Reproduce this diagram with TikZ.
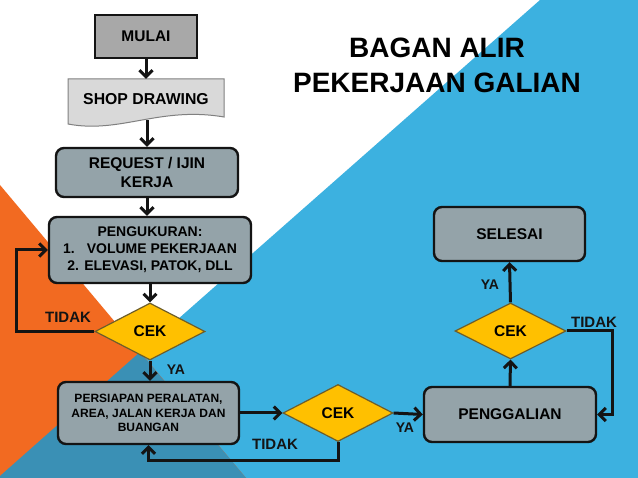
\documentclass[tikz,border=0pt]{standalone}
\usepackage{fontspec}
\setmainfont{Liberation Sans}
\usetikzlibrary{shapes.geometric,arrows.meta}
\definecolor{bgorange}{HTML}{F26A21}
\definecolor{bgblue}{HTML}{3CB1E0}
\definecolor{bgdark}{HTML}{3A90B5}
\definecolor{boxfill}{HTML}{94A3A9}
\definecolor{startfill}{HTML}{A8A8A8}
\definecolor{docfill}{HTML}{D9D9D9}
\definecolor{docline}{HTML}{808080}
\definecolor{decfill}{HTML}{FFC000}
\definecolor{decline}{HTML}{6E5E2A}
\definecolor{ink}{HTML}{141414}
\tikzset{
  procbox/.style={draw=ink, line width=2.4pt, fill=boxfill, rounded corners=8pt,
    align=center, inner sep=0pt, font=\bfseries\fontsize{15.5}{19}\selectfont},
  startbox/.style={draw=ink, line width=2.4pt, fill=startfill, align=center,
    inner sep=0pt, font=\bfseries\fontsize{15.5}{19}\selectfont},
  decbox/.style={diamond, draw=decline, line width=1.2pt, fill=decfill, inner sep=0pt,
    aspect=1, font=\bfseries\fontsize{15.5}{19}\selectfont},
  arr/.style={draw=ink, line width=3pt, -{Straight Barb[length=6.5pt,width=13pt]}},
  lbl/.style={font=\bfseries\fontsize{15}{18}\selectfont, text=ink, inner sep=0pt},
}
\begin{document}
\begin{tikzpicture}[x=1pt,y=-1pt]
\useasboundingbox (0,0) rectangle (638,478);
% background
\fill[white] (0,0) rectangle (638,478);
\fill[bgblue] (540,0) -- (638,0) -- (638,478) -- (0,478) -- (0,476) -- cycle;
\fill[bgorange] (0,185) -- (246,478) -- (0,478) -- cycle;
\fill[bgdark] (140,352) -- (246,478) -- (0,478) -- (0,476) -- cycle;
% title
\node[align=center, inner sep=0pt, font=\bfseries\fontsize{28}{35}\selectfont] (title) at (437,65)
  {BAGAN ALIR\\PEKERJAAN GALIAN};
% nodes
\node[startbox, minimum width=102pt, minimum height=43pt] (mulai) at (146,36.5) {MULAI};
\node[inner sep=0pt, minimum width=156pt, minimum height=46pt] (shop) at (146,102) {};
\draw[fill=docfill, draw=docline, line width=1pt]
  (68,79) -- (224,79) -- (224,117) .. controls (160,106) and (120,134) .. (68,124) -- cycle;
\node[inner sep=0pt, font=\bfseries\fontsize{15.8}{19}\selectfont] (shoptext) at (146,99) {SHOP DRAWING};
\coordinate (shopb) at (147,120);
\node[procbox, minimum width=182pt, minimum height=49pt] (request) at (147,172.5) {REQUEST / IJIN\\KERJA};
\node[procbox, minimum width=202pt, minimum height=66pt, font=\bfseries\fontsize{14}{17}\selectfont] (peng) at (150,250)
  {PENGUKURAN:\\1.\hspace{12pt}VOLUME PEKERJAAN\\2. ELEVASI, PATOK, DLL};
\node[decbox, minimum width=110pt, minimum height=57pt] (cek1) at (150,331.5) {CEK};
\node[procbox, minimum width=181pt, minimum height=62pt, font=\bfseries\fontsize{12}{14.5}\selectfont] (persiapan) at (148.5,413)
  {PERSIAPAN PERALATAN,\\AREA, JALAN KERJA DAN\\BUANGAN};
\node[decbox, minimum width=110pt, minimum height=57pt] (cek2) at (338,413) {CEK};
\node[procbox, minimum width=172pt, minimum height=55pt] (penggalian) at (510,414.5) {PENGGALIAN};
\node[decbox, minimum width=111pt, minimum height=56pt] (cek3) at (510.5,331) {CEK};
\node[procbox, minimum width=151pt, minimum height=54pt] (selesai) at (509.5,234) {SELESAI};
% connectors
\draw[arr] (mulai.south) -- (shop.north);
\draw[arr] (shopb) -- (request.north);
\draw[arr] (request.south) -- (request.south |- peng.north);
\draw[arr] (peng.south) -- (cek1.north);
\draw[arr] (cek1.west) -| ([xshift=-31pt]peng.west) -- (peng.west);
\draw[arr] (cek1.south) -- (cek1.south |- persiapan.north);
\draw[arr] (persiapan.east) -- (cek2.west);
\draw[arr] (cek2.south) -- ++(0,18) -| (persiapan.south);
\draw[arr] (cek2.east) -- (penggalian.west);
\draw[arr] (penggalian.north) -- (cek3.south);
\draw[arr] (cek3.north) -- (selesai.south);
\draw[arr] (cek3.east) -- ++(46,0) |- (penggalian.east);
% labels
\node[lbl] (t1) at (68,317) {TIDAK};
\node[lbl, font=\bfseries\fontsize{14}{17}\selectfont] (y1) at (176,370) {YA};
\node[lbl] (t2) at (275,444) {TIDAK};
\node[lbl, font=\bfseries\fontsize{14}{17}\selectfont] (y2) at (405,428) {YA};
\node[lbl, font=\bfseries\fontsize{14}{17}\selectfont] (y3) at (490,285) {YA};
\node[lbl] (t3) at (594,322) {TIDAK};
\end{tikzpicture}
\end{document}
